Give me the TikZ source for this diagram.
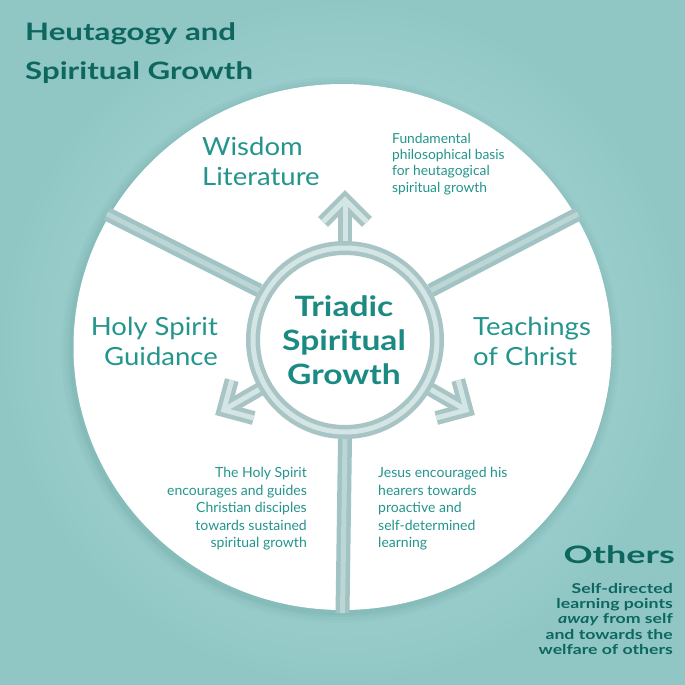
\documentclass[tikz,border=0pt]{standalone}
\usepackage{fontspec}
\setmainfont{Lato}
\newfontfamily\widefont[FakeStretch=1.3]{Lato}
\newfontfamily\widerfont[FakeStretch=1.5]{Lato}
\newfontfamily\centerfont[FakeStretch=1.2]{Lato}
\newfontfamily\headfont[FakeStretch=1.1]{Lato}
\usetikzlibrary{calc}
\definecolor{darkteal}{HTML}{0D675F}
\definecolor{midteal}{HTML}{23958D}
\definecolor{centerteal}{HTML}{1B8A82}
\definecolor{bgin}{HTML}{B9E0DE}
\definecolor{bgout}{HTML}{90C7C5}
\definecolor{metal}{HTML}{A9C4C4}
\definecolor{metalhi}{HTML}{D3E5E5}
\definecolor{gapcol}{HTML}{A2C3C3}
\definecolor{gaphi}{HTML}{BCD6D6}
\definecolor{shadowcol}{HTML}{4F8E8C}
\tikzset{
  titletext/.style={inner sep=0, text=darkteal, font=\widefont\fontsize{24}{39}\selectfont\bfseries},
  headtext/.style={inner sep=0, text=midteal, font=\headfont\fontsize{25}{30}\selectfont},
  smalltext/.style={inner sep=0, text=midteal, font=\fontsize{14}{17.6}\selectfont},
  centertext/.style={inner sep=0, text=centerteal, font=\centerfont\fontsize{28}{34}\selectfont\bfseries, align=center},
  othershead/.style={inner sep=0, text=darkteal, font=\widerfont\fontsize{24}{26}\selectfont\bfseries},
  otherstext/.style={inner sep=0, text=darkteal, font=\widefont\fontsize{13.6}{15.3}\selectfont\bfseries, align=right},
  gapline/.style={line width=14pt, draw=gapcol},
  gaplinehi/.style={line width=5pt, draw=gaphi},
  metalline/.style={line width=14pt, draw=metal, line join=miter},
  metallinehi/.style={line width=5pt, draw=metalhi, line join=miter},
}
\begin{document}
\begin{tikzpicture}[x=1pt,y=-1pt]
\useasboundingbox (0,0) rectangle (685,685);
\shade[inner color=bgin, outer color=bgout] (0,0) rectangle (685,685);

\coordinate (big) at (342.5,347);
\coordinate (ring) at (345,340);

% soft shadow of the disc
\foreach \r/\o in {10/0.05, 7/0.06, 4/0.07, 2/0.08}
  \fill[shadowcol, opacity=\o] ($(big)+(-2,3)$) ellipse [x radius=269+\r, y radius=263+\r];
\fill[white] (big) ellipse [x radius=269, y radius=263];

% dividers between the three segments
\foreach \a/\n in {210/ul, 330/ur, 90/bt}{
  \coordinate (in\n) at ($(ring)+(\a:99)$);
  \coordinate (out\n) at ($(big)+(\a:272 and 266)$);
  \draw[gapline] (in\n) -- (out\n);
  \draw[gaplinehi] (in\n) -- (out\n);
}

% arrows from the ring
\foreach \a/\n in {270/tp, 150/ll, 30/lr}{
  \coordinate (base\n) at ($(ring)+(\a:95)$);
  \coordinate (tip\n) at ($(ring)+(\a:140)$);
  \coordinate (armA\n) at ($(tip\n)+(\a+135:31)$);
  \coordinate (armB\n) at ($(tip\n)+(\a-135:31)$);
  \draw[metalline] (base\n) -- (tip\n);
  \draw[metalline] (armA\n) -- (tip\n) -- (armB\n);
  \draw[metallinehi] (base\n) -- (tip\n);
  \draw[metallinehi] (armA\n) -- (tip\n) -- (armB\n);
}

% central ring
\fill[white] (ring) circle (86);
\draw[line width=14pt, draw=metal] (ring) circle (92);
\draw[line width=5pt, draw=metalhi] (ring) circle (92);

% texts
\node[titletext, anchor=north west, align=left] (title) at (25,22) {Heutagogy and\\Spiritual Growth};
\node[headtext, anchor=north west, align=left] (wisdom) at (202,137) {Wisdom\\Literature};
\node[smalltext, anchor=north west, align=left, font=\fontsize{13.8}{16.3}\selectfont] (wisdomtxt) at (392,133) {Fundamental\\philosophical basis\\for heutagogical\\spiritual growth};
\node[centertext, anchor=north] (center) at (344,295) {Triadic\\Spiritual\\Growth};
\node[headtext, anchor=north east, align=right] (holy) at (218,317) {Holy Spirit\\Guidance};
\node[headtext, anchor=north west, align=left] (teach) at (473,317) {Teachings\\of Christ};
\node[smalltext, anchor=north east, align=right] (holytxt) at (307,467) {The Holy Spirit\\encourages and guides\\Christian disciples\\towards sustained\\spiritual growth};
\node[smalltext, anchor=north west, align=left] (teachtxt) at (378,467) {Jesus encouraged his\\hearers towards\\proactive and\\self-determined\\learning};
\node[othershead, anchor=north east] (others) at (675,545) {Others};
\node[otherstext, anchor=north east] (otherstxt) at (673,583) {Self-directed\\learning points\\\textit{away} from self\\and towards the\\welfare of others};
\end{tikzpicture}
\end{document}
